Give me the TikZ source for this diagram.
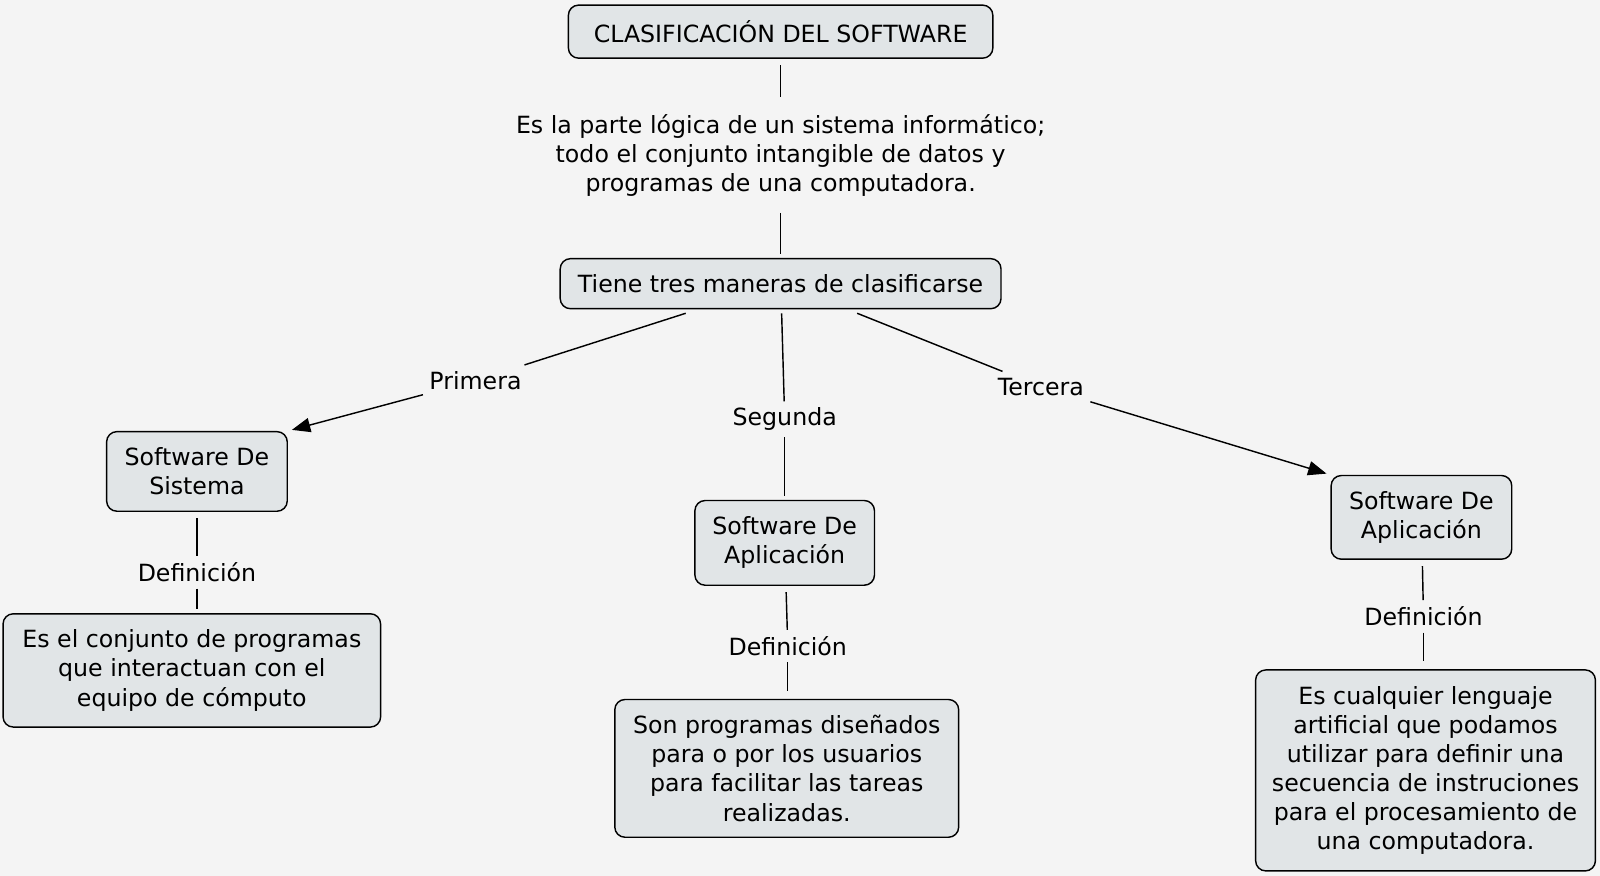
\documentclass[tikz,border=0pt]{standalone}
\usepackage{fontspec}
\setmainfont{DejaVu Sans}
\usetikzlibrary{arrows.meta}
\definecolor{bg}{HTML}{F4F4F4}
\definecolor{boxfill}{HTML}{E1E5E7}
\begin{document}
\begin{tikzpicture}[x=0.5pt,y=-0.5pt,
  box/.style={draw=black,line width=0.7pt,fill=boxfill,rounded corners=5pt,align=center,inner sep=0pt,font=\fontsize{11.6}{14.25}\selectfont},
  lbl/.style={align=center,inner sep=3pt,font=\fontsize{11.6}{14.25}\selectfont},
  ln/.style={line width=0.7pt},
  arr/.style={line width=0.7pt,-{Triangle[length=9pt,width=7pt]}}]
\fill[bg] (0,0) rectangle (1568,858);
\useasboundingbox (0,0) rectangle (1568,858);
\node[box,minimum width=208pt,minimum height=26pt] (t) at (765,31) {CLASIFICACIÓN DEL SOFTWARE};
\node[lbl,inner sep=5pt] (d) at (765,152) {Es la parte lógica de un sistema informático;\\todo el conjunto intangible de datos y\\programas de una computadora.};
\node[box,minimum width=216pt,minimum height=24.5pt] (c) at (765,278) {Tiene tres maneras de clasificarse};
\node[lbl] (p1) at (466,373) {Primera};
\node[lbl] (p2) at (769,411) {Segunda};
\node[lbl] (p3) at (1020,379) {Tercera};
\node[box,minimum width=88.5pt,minimum height=39pt] (s1) at (193,462) {Software De\\Sistema};
\node[box,minimum width=88pt,minimum height=41.5pt] (s2) at (769,532) {Software De\\Aplicación};
\node[box,minimum width=88.5pt,minimum height=41pt] (s3) at (1393,507) {Software De\\Aplicación};
\node[lbl] (f1) at (193,561) {Definición};
\node[lbl] (f2) at (772,633) {Definición};
\node[lbl] (f3) at (1395,604) {Definición};
\node[box,minimum width=185pt,minimum height=55.5pt] (e1) at (188,657) {Es el conjunto de programas\\que interactuan con el\\equipo de cómputo};
\node[box,minimum width=168.5pt,minimum height=67.5pt] (e2) at (771,753) {Son programas diseñados\\para o por los usuarios\\para facilitar las tareas\\realizadas.};
\node[box,minimum width=166.5pt,minimum height=98.5pt] (e3) at (1397,755) {Es cualquier lenguaje\\artificial que podamos\\utilizar para definir una\\secuencia de instruciones\\para el procesamiento de\\una computadora.};
\draw[ln,shorten <=3pt,shorten >=3pt] (t) -- (d);
\draw[ln,shorten <=3pt,shorten >=2pt] (d) -- (c);
\draw[ln] (672,307) -- (p1);
\draw[arr,shorten >=2pt] (p1) -- (s1.north east);
\draw[ln] (766,307) -- (p2);
\draw[ln,shorten >=2pt] (p2) -- (s2);
\draw[ln] (840,307) -- (p3);
\draw[arr,shorten >=2pt] (p3) -- (s3.north west);
\draw[ln,shorten <=3pt] (s1) -- (f1);
\draw[ln,shorten >=2pt] (f1) -- (e1.north -| f1);
\draw[ln,shorten <=3pt] (s2) -- (f2);
\draw[ln,shorten >=4pt] (f2) -- (e2.north -| f2);
\draw[ln,shorten <=3pt] (s3) -- (f3);
\draw[ln,shorten >=4pt] (f3) -- (e3.north -| f3);
\end{tikzpicture}
\end{document}
